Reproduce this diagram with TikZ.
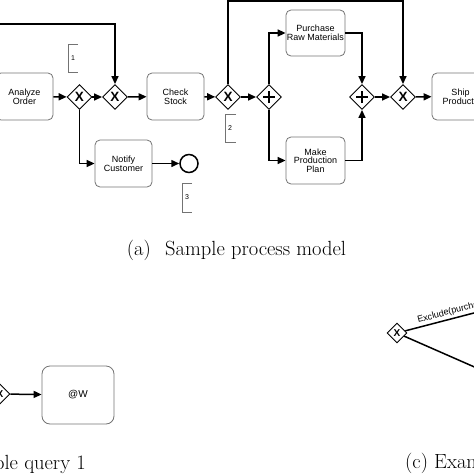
\documentclass[tikz,border=0pt]{standalone}
\usepackage{fontspec}
\setsansfont{Liberation Sans}
\usetikzlibrary{shapes.geometric,arrows.meta,positioning}

\begin{document}
\begin{tikzpicture}[x=1pt,y=-1pt,
	task/.style={draw=black!55, line width=0.8pt, rounded corners=5pt, minimum width=57pt, minimum height=47pt, align=center, inner sep=0pt, font=\sffamily\fontsize{9}{8.6}\selectfont},
	xorgw/.style={diamond, draw, line width=0.9pt, fill=white, minimum width=25pt, minimum height=25pt, inner sep=0pt, font=\sffamily\bfseries\fontsize{13.5}{13.5}\selectfont},
	andgw/.style={diamond, draw, line width=0.9pt, fill=white, minimum width=25pt, minimum height=25pt, inner sep=0pt,
		path picture={\draw[line width=1.8pt] ([xshift=-6pt]path picture bounding box.center) -- ([xshift=6pt]path picture bounding box.center)
			([yshift=-6pt]path picture bounding box.center) -- ([yshift=6pt]path picture bounding box.center);}},
	flow/.style={line width=1.5pt, -{Triangle[length=8pt,width=7pt]}},
	note/.style={draw=black!55, line width=0.8pt},
	num/.style={font=\sffamily\fontsize{7}{7}\selectfont},
	caption/.style={font=\fontsize{20.5}{22}\selectfont, inner sep=0pt}]
	\useasboundingbox (0,0) rectangle (474,474);
	\clip (0,0) rectangle (474,474);

	% (a) sample process model
	\node[task] (ana) at (24.5,96.5) {Analyze\\Order};
	\node[xorgw] (x1) at (79.5,97) {X};
	\node[xorgw] (x2) at (115,97) {X};
	\node[task] (chk) at (175.5,96.5) {Check\\Stock};
	\node[xorgw] (x3) at (228,97) {X};
	\node[andgw] (p1) at (269,97) {};
	\node[task, minimum width=59pt, minimum height=46pt] (pur) at (315.5,33) {Purchase\\Raw Materials};
	\node[task, minimum width=59pt] (mak) at (315.5,160.5) {Make\\Production\\Plan};
	\node[andgw] (p2) at (362,97) {};
	\node[xorgw] (x5) at (403,97) {X};
	\node[task] (shp) at (460.5,96.5) {Ship\\Products};
	\node[task] (ntf) at (123.5,163.5) {Notify\\Customer};
	\node[circle, draw, line width=1.5pt, minimum size=18pt, inner sep=0pt] (end) at (189,163.5) {};
	\coordinate (lft) at (-5,24);
	\coordinate (topb) at (228,1);
	\coordinate (topc) at (403,1);

	\draw[flow] (ana) -- (x1);
	\draw[flow] (x1) -- (x2);
	\draw[flow] (x2) -- (chk);
	\draw[flow] (chk) -- (x3);
	\draw[flow] (x3) -- (p1);
	\draw[flow] (p1.north) |- (pur.west);
	\draw[flow] (p1.south) |- (mak.west);
	\draw[flow] (pur.east) -| (p2.north);
	\draw[flow] (mak.east) -| (p2.south);
	\draw[flow] (p2) -- (x5);
	\draw[flow] (x5) -- (shp);
	\draw[flow] (x1.south) |- (ntf.west);
	\draw[flow] (ntf) -- (end);
	\draw[flow] (lft) -| (x2.north);
	\draw[flow] (x3.north) -- (topb) -- (topc) -- (x5.north);

	% text annotations
	\node[num] (n1) at (73,58) {1};
	\draw[note] (78,44) -- (68,44) -- (68,72) -- (78,72);
	\node[num] (n2) at (230,128) {2};
	\draw[note] (236,114) -- (225,114) -- (225,142) -- (236,142);
	\node[num] (n3) at (187,197) {3};
	\draw[note] (192,183) -- (182,183) -- (182,212) -- (192,212);

	\node[caption] (capa) at (236.5,250) {(a)\hspace{0.7em}Sample process model};

	% (b) example query 1
	\node[xorgw, minimum width=20pt, minimum height=20pt, font=\sffamily\bfseries\fontsize{10}{10}\selectfont] (xb) at (0,394) {X};
	\node[task, minimum width=72pt, minimum height=58pt, rounded corners=8pt, font=\sffamily\fontsize{10}{10}\selectfont] (wb) at (78,395) {@W};
	\draw[flow] (xb) -- (wb);
	\node[caption, anchor=base east] (capb) at (86,469) {(b) Example query 1};

	% (c) example query 2
	\node[xorgw, minimum width=20pt, minimum height=20pt, font=\sffamily\bfseries\fontsize{10}{10}\selectfont] (xc) at (397,333) {X};
	\coordinate (c1) at (520,301);
	\coordinate (c2) at (520,387);
	\draw[line width=1.5pt] (xc) -- (c1) node[pos=0.1, sloped, anchor=south west, inner sep=2pt, font=\sffamily\fontsize{9}{9}\selectfont] {Exclude(purchase)};
	\draw[line width=1.5pt] (xc) -- (c2);
	\node[caption, anchor=base west] (capc) at (405,468) {(c) Example query 2};
\end{tikzpicture}
\end{document}
